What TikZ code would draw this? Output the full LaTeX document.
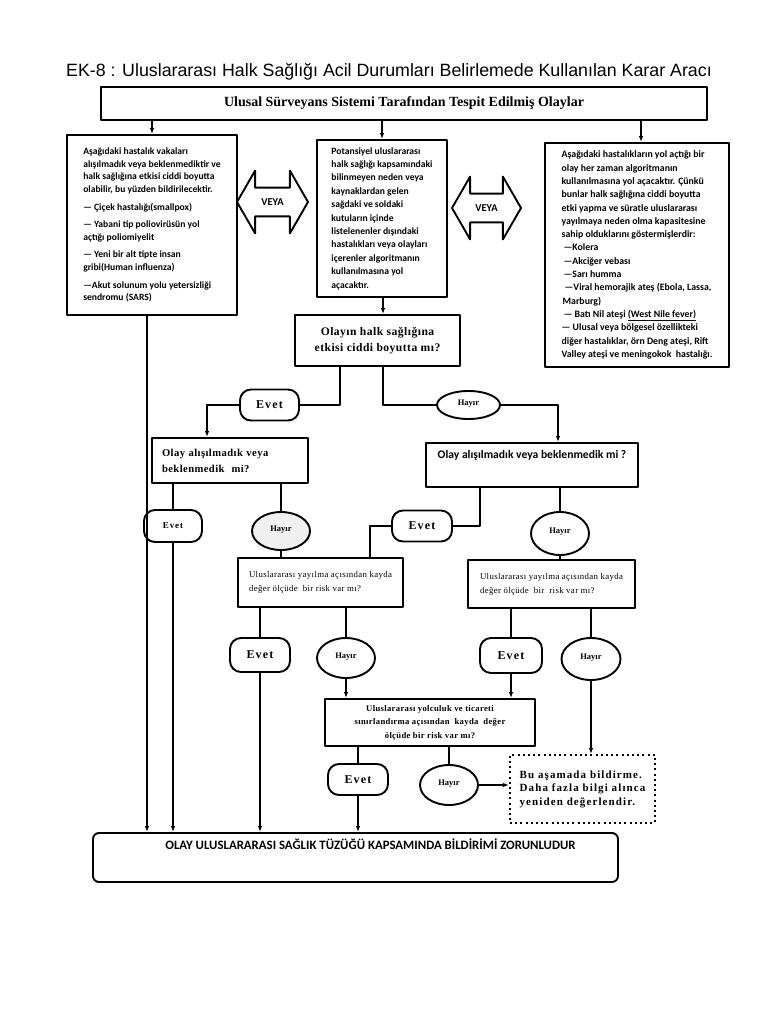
\documentclass[tikz,border=0pt]{standalone}
\usepackage{fontspec}
\setmainfont{Liberation Serif}
\newfontfamily\calibri{Carlito}
\newfontfamily\arial{Liberation Sans}
\newfontfamily\widetimes[LetterSpace=10]{Liberation Serif}
\newfontfamily\halftimes[LetterSpace=4]{Liberation Serif}
\usetikzlibrary{shapes.geometric,shapes.arrows,arrows.meta}

\begin{document}
\begin{tikzpicture}[x=1pt, y=-1pt, line join=round]
    % Styles
    \tikzset{
      box/.style={draw, line width=1.9pt, inner sep=0pt},
      list text/.style={font=\calibri\bfseries\fontsize{9.6}{12.6}\selectfont, align=left},
      yes node/.style={draw, line width=1.9pt, rounded corners=11pt, inner sep=0pt, font=\widetimes\bfseries\fontsize{12}{14}\selectfont},
      no node/.style={draw, ellipse, line width=1.9pt, inner sep=0pt, text depth=5pt, font=\bfseries\fontsize{8.5}{10}\selectfont},
      or arrow/.style={draw, double arrow, line width=1.9pt, double arrow head extend=17pt, double arrow tip angle=120, inner xsep=2pt, inner ysep=10pt, font=\calibri\bfseries\fontsize{10.5}{12}\selectfont},
      conn/.style={line width=1.2pt},
      arr/.style={line width=1.2pt, -{Latex[length=6pt,width=4.5pt]}}
    }
    \useasboundingbox (0,0) rectangle (768,1024);

    % --- Title ---
    \node[font=\arial\fontsize{17.8}{20}\selectfont] (title) at (389,72) {EK-8 : Uluslararası Halk Sağlığı Acil Durumları Belirlemede Kullanılan Karar Aracı};

    % --- Top box ---
    \node[box, minimum width=606pt, minimum height=33pt, font=\bfseries\fontsize{14}{16}\selectfont] (top) at (404,103.5) {Ulusal Sürveyans Sistemi Tarafından Tespit Edilmiş Olaylar};

    % --- Three entry boxes ---
    \node[box, list text, minimum width=170pt, minimum height=180pt] (left) at (152,225) {Aşağıdaki hastalık vakaları\\ alışılmadık veya beklenmediktir ve\\ halk sağlığına etkisi ciddi boyutta\\ olabilir, bu yüzden bildirilecektir.\\[5pt] — Çiçek hastalığı(smallpox)\\[5pt] — Yabani tip poliovirüsün yol\\ açtığı poliomiyelit\\[5pt] — Yeni bir alt tipte insan\\ gribi(Human influenza)\\[5pt] —Akut solunum yolu yetersizliği\\ sendromu (SARS)};
    \node[box, list text, font=\calibri\bfseries\fontsize{9.6}{13.4}\selectfont, minimum width=130pt, minimum height=157pt] (mid) at (382,218.5) {Potansiyel uluslararası\\ halk sağlığı kapsamındaki\\ bilinmeyen neden veya\\ kaynaklardan gelen\\ sağdaki ve soldaki\\ kutuların içinde\\ listelenenler dışındaki\\ hastalıkları veya olayları\\ içerenler algoritmanın\\ kullanılmasına yol\\ açacaktır.};
    \node[box, list text, font=\calibri\bfseries\fontsize{9.8}{13.3}\selectfont, minimum width=184pt, minimum height=224pt] (right) at (637,255) {Aşağıdaki hastalıkların yol açtığı bir\\ olay her zaman algoritmanın\\ kullanılmasına yol açacaktır. Çünkü\\ bunlar halk sağlığına ciddi boyutta\\ etki yapma ve süratle uluslararası\\ yayılmaya neden olma kapasitesine\\ sahip olduklarını göstermişlerdir:\\ \hspace*{2pt}—Kolera\\ \hspace*{2pt}—Akciğer vebası\\ \hspace*{2pt}—Sarı humma\\ \hspace*{3pt}—Viral hemorajik ateş (Ebola, Lassa,\\ \hspace*{1pt}Marburg)\\ \hspace*{2pt}— Batı Nil ateşi \underline{(West Nile fever)}\\ — Ulusal veya bölgesel özellikteki\\ diğer hastalıklar, örn Deng ateşi, Rift\\ Valley ateşi ve meningokok\ \ hastalığı.};

    % VEYA arrows
    \node[or arrow, minimum height=71pt] (orL) at (272.5,202) {VEYA};
    \node[or arrow, minimum height=69pt] (orR) at (486.5,208) {VEYA};

    % --- Question 1 ---
    \node[box, minimum width=165pt, minimum height=51pt, align=center, font=\halftimes\bfseries\fontsize{11.6}{16}\selectfont] (q1) at (377.5,340.5) {Olayın halk sağlığına\\ etkisi ciddi boyutta mı?};
    \node[yes node, minimum width=59pt, minimum height=31pt] (yes1) at (269.5,405) {Evet};
    \node[no node, minimum width=63pt, minimum height=28pt] (no1) at (468.5,405) {Hayır};

    % --- Question 2 (unusual?) ---
    \node[box, minimum width=156pt, minimum height=45pt, text width=136pt, inner xsep=10pt, align=left, font=\halftimes\bfseries\fontsize{10.6}{16}\selectfont] (q2L) at (230,460.5) {Olay alışılmadık veya\\ beklenmedik\ \ mi?};
    \node[box, minimum width=212pt, minimum height=44pt, text height=8pt, text depth=22pt, font=\calibri\bfseries\fontsize{11.6}{12}\selectfont] (q2R) at (532,465) {Olay alışılmadık veya beklenmedik mi ?};

    \node[yes node, minimum width=58pt, minimum height=32pt, font=\widetimes\bfseries\fontsize{9}{11}\selectfont] (yes2) at (173,526) {Evet};
    \node[no node, minimum width=58pt, minimum height=38pt, fill=gray!12] (no2) at (281,531) {Hayır};
    \node[yes node, minimum width=60pt, minimum height=31pt] (yes3) at (422,526) {Evet};
    \node[no node, minimum width=58pt, minimum height=43pt] (no3) at (560,533.5) {Hayır};

    % --- Question 3 (international spread?) ---
    \node[box, minimum width=165pt, minimum height=49pt, align=left, font=\halftimes\fontsize{8.8}{14}\selectfont] (q3L) at (320.5,582.5) {Uluslararası yayılma açısından kayda\\ değer ölçüde\ \ bir risk\ var mı?};
    \node[box, minimum width=167pt, minimum height=48pt, align=left, font=\halftimes\fontsize{8.8}{14}\selectfont] (q3R) at (551.5,584) {Uluslararası yayılma açısından kayda\\ değer ölçüde\ \ bir\ \ risk var mı?};

    \node[yes node, minimum width=60pt, minimum height=34pt] (yes4) at (260,655) {Evet};
    \node[no node, minimum width=58pt, minimum height=40pt] (no4) at (346,658) {Hayır};
    \node[yes node, minimum width=62pt, minimum height=35pt] (yes5) at (511,655.5) {Evet};
    \node[no node, minimum width=59pt, minimum height=42pt] (no5) at (591,659) {Hayır};

    % --- Question 4 (travel/trade?) ---
    \node[box, minimum width=210pt, minimum height=47pt, align=center, font=\halftimes\bfseries\fontsize{8.6}{13.5}\selectfont] (q4) at (430,722.5) {Uluslararası yolculuk ve ticareti\\ sınırlandırma açısından\ \ kayda\ \ değer\\ ölçüde bir risk var mı?};
    \node[yes node, minimum width=60pt, minimum height=31pt] (yes6) at (358,779.5) {Evet};
    \node[no node, minimum width=58pt, minimum height=40pt] (no6) at (449,785) {Hayır};

    % Wait box (dotted)
    \node[draw, line width=2.2pt, dash pattern=on 2pt off 3.2pt, minimum width=145pt, minimum height=68pt, align=left, font=\widetimes\bfseries\fontsize{11}{13.5}\selectfont] (wait) at (582.5,789) {Bu aşamada bildirme.\\ Daha fazla bilgi alınca\\ yeniden değerlendir.};

    % --- Bottom box ---
    \node[draw, line width=1.9pt, rounded corners=6pt, minimum width=525pt, minimum height=49pt, text height=8pt, text depth=25pt, font=\calibri\bfseries\fontsize{12.8}{14}\selectfont] (notify) at (355.5,857.5) {\hspace*{30pt}OLAY ULUSLARARASI SAĞLIK TÜZÜĞÜ KAPSAMINDA BİLDİRİMİ ZORUNLUDUR};

    % --- Connectors ---
    \draw[arr] (top.south -| left.north) -- (left.north);
    \draw[arr] (top.south -| mid.north) -- (mid.north);
    \draw[arr] ([xshift=4pt]top.south -| right.north) -- ([xshift=4pt]right.north);
    \draw[arr] ([xshift=1pt]mid.south) -- ([xshift=1pt]mid.south |- q1.north);

    \draw[conn] ([xshift=-37.5pt]q1.south) |- (yes1.east);
    \draw[arr] (yes1.west) -| ([xshift=-23pt]q2L.north);
    \draw[conn] ([xshift=5.5pt]q1.south) |- (no1.west);
    \draw[arr] (no1.east) -| ([xshift=26pt]q2R.north);

    \draw[conn] (q2L.south -| yes2.north) -- (yes2.north);
    \draw[conn] (q2L.south -| no2.north) -- (no2.north);
    \draw[conn] (no2.south) -- (no2.south |- q3L.north);
    \draw[conn] ([xshift=-52pt]q2R.south) |- (yes3.east);
    \draw[conn] (yes3.west) -| ([xshift=49.5pt]q3L.north);
    \draw[conn] (q2R.south -| no3.north) -- (no3.north);
    \draw[conn] (no3.south) -- (no3.south |- q3R.north);

    \draw[conn] (q3L.south -| yes4.north) -- (yes4.north);
    \draw[conn] (q3L.south -| no4.north) -- (no4.north);
    \draw[arr] (no4.south) -- (no4.south |- q4.north);
    \draw[conn] (q3R.south -| yes5.north) -- (yes5.north);
    \draw[arr] (yes5.south) -- (yes5.south |- q4.north);
    \draw[conn] (q3R.south -| no5.north) -- (no5.north);
    \draw[arr] (no5.south) -- (no5.south |- wait.north);

    \draw[conn] (q4.south -| yes6.north) -- (yes6.north);
    \draw[conn] (q4.south -| no6.north) -- (no6.north);
    \draw[arr] (no6.east) -- (no6.east -| wait.west);

    \draw[arr] ([xshift=-5pt]left.south) -- ([xshift=-5pt]left.south |- notify.north);
    \draw[arr] (yes2.south) -- (yes2.south |- notify.north);
    \draw[arr] (yes4.south) -- (yes4.south |- notify.north);
    \draw[arr] (yes6.south) -- (yes6.south |- notify.north);

\end{tikzpicture}
\end{document}
